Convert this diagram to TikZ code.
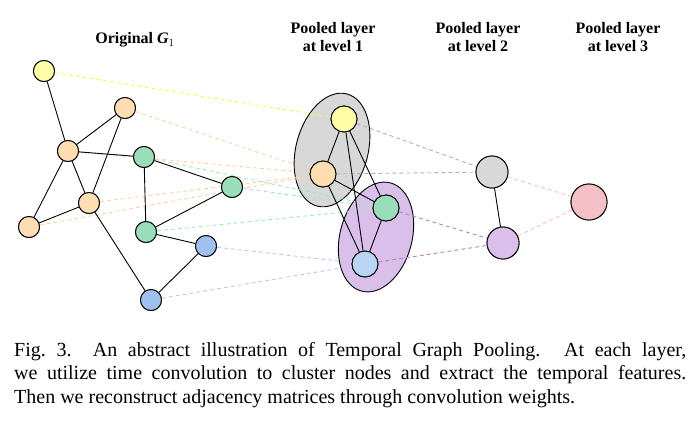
\documentclass[tikz,border=0pt]{standalone}
\usepackage{fontspec}
\setmainfont{Liberation Serif}
\begin{document}
\begin{tikzpicture}[x=1pt,y=-1pt,
  vx/.style={circle,draw,line width=0.9pt,minimum size=21pt,inner sep=0pt},
  vb/.style={vx,minimum size=26pt},
  v2/.style={vx,minimum size=32pt},
  e/.style={line width=0.9pt},
  d/.style={line width=0.9pt,dash pattern=on 4pt off 3pt},
  ttl/.style={font=\bfseries\fontsize{16}{18}\selectfont,align=center}]
\definecolor{cy}{HTML}{FFFFAA}\definecolor{co}{HTML}{FFDDB3}
\definecolor{cg}{HTML}{99DDBB}\definecolor{cb}{HTML}{A0C0EE}
\definecolor{cbl}{HTML}{BAD4F4}\definecolor{cgr}{HTML}{D8D8D8}
\definecolor{cp}{HTML}{D9BFEA}\definecolor{cpk}{HTML}{F4C0C8}
\useasboundingbox (0,0) rectangle (700,426);
% titles
\node[ttl] (t0) at (135,40) {Original \textit{G}$_1$};
\node[ttl] (t1) at (333,37) {Pooled layer\\at level 1};
\node[ttl] (t2) at (478,37) {Pooled layer\\at level 2};
\node[ttl] (t3) at (618,37) {Pooled layer\\at level 3};
% cluster ellipses
\draw[e,fill=cgr] (332,150) ellipse[x radius=36,y radius=58,rotate=-15];
\draw[e,fill=cp] (376,237) ellipse[x radius=36,y radius=56,rotate=-15];
% original graph
\node[vx,fill=cy] (y1) at (44,71) {};
\node[vx,fill=co] (o1) at (125,108) {};
\node[vx,fill=co] (o2) at (68,151) {};
\node[vx,fill=cg] (g1) at (144,157) {};
\node[vx,fill=cg] (g2) at (232,187) {};
\node[vx,fill=co] (o3) at (89,203) {};
\node[vx,fill=co] (o4) at (29,227) {};
\node[vx,fill=cg] (g3) at (146,232) {};
\node[vx,fill=cb] (b1) at (206,246) {};
\node[vx,fill=cb] (b2) at (151,300) {};
% level 1
\node[vb,fill=cy] (ly) at (344,119) {};
\node[vb,fill=co] (lo) at (323,174) {};
\node[vb,fill=cg] (lg) at (386,208) {};
\node[vb,fill=cbl] (lb) at (365,264) {};
% level 2 and 3
\node[v2,fill=cgr] (mg) at (492,172) {};
\node[v2,fill=cp] (mp) at (503,243) {};
\node[v2,minimum size=36pt,fill=cpk] (pk) at (589,202) {};
% dashed mappings
\draw[d,yellow!70] (y1) -- (ly);
\draw[d,orange!35] (o1) -- (lo) (o2) -- (lo) (o3) -- (lo) (o4) -- (lo);
\draw[d,green!50!teal!35] (g1) -- (lg) (g2) -- (lg) (g3) -- (lg);
\draw[d,cb!80] (b1) -- (lb) (b2) -- (lb);
\draw[d,black!30] (ly) -- (mg) (lo) -- (mg);
\draw[d,violet!50] (lg) -- (mp) (lb) -- (mp);
\draw[d,red!25] (mg) -- (pk) (mp) -- (pk);
% edges
\draw[e] (y1) -- (o2) (o1) -- (o2) (o1) -- (o3) (o2) -- (g1) (o2) -- (o3)
  (o2) -- (o4) (o4) -- (o3) (o3) -- (b2) (g1) -- (g2) (g1) -- (g3)
  (g3) -- (g2) (g3) -- (b1) (b1) -- (b2);
\draw[e] (ly) -- (lo) (ly) -- (lb) (ly) -- (lg) (lo) -- (lg) (lo) -- (lb) (lg) -- (lb);
\draw[e] (mg) -- (mp);
% redraw nodes on top
\foreach \n/\c in {y1/cy,o1/co,o2/co,g1/cg,g2/cg,o3/co,o4/co,g3/cg,b1/cb,b2/cb}
  \draw[e,fill=\c] (\n) circle (10.5);
\foreach \n/\c in {ly/cy,lo/co,lg/cg,lb/cbl}
  \draw[e,fill=\c] (\n) circle (13);
\draw[e,fill=cgr] (mg) circle (16);
\draw[e,fill=cp] (mp) circle (16);
\draw[e,fill=cpk] (pk) circle (18);
% caption
\node[anchor=north west,text width=672pt,align=justify,inner sep=0pt,
  font=\fontsize{20}{23.5}\selectfont] (cap) at (14,342)
  {Fig.~3.\ \ An abstract illustration of Temporal Graph Pooling. At each layer,\linebreak we utilize time convolution to cluster nodes and extract the temporal features.\linebreak Then we reconstruct adjacency matrices through convolution weights.};
\end{tikzpicture}
\end{document}
